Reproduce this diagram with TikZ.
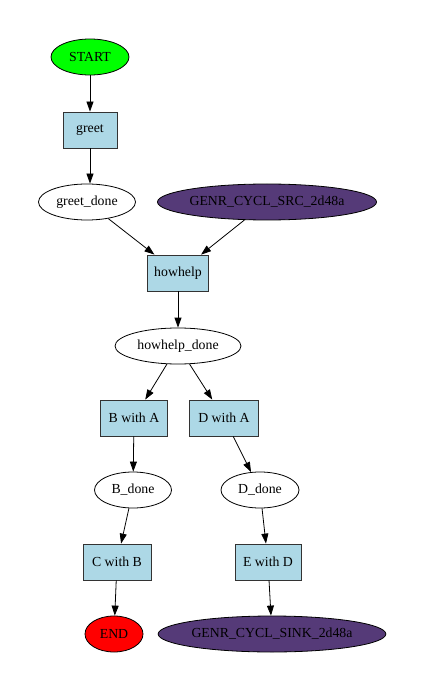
\documentclass[tikz,border=0pt]{standalone}
\usepackage{fontspec}
\setmainfont{Liberation Serif}
\usetikzlibrary{shapes.geometric,arrows.meta}
\definecolor{lblue}{HTML}{ADD8E6}
\definecolor{gpurple}{HTML}{553A78}
\definecolor{sgreen}{HTML}{00FF00}
\definecolor{ered}{HTML}{FF0000}
\begin{document}
\begin{tikzpicture}[x=1pt,y=-1pt,
  every node/.style={font=\fontsize{13.8}{16}\selectfont, inner sep=0pt, line width=0.8pt},
  ell/.style={ellipse, draw=black, fill=white, minimum height=36pt},
  box/.style={rectangle, draw=black!80, fill=lblue, minimum height=36pt},
  conn/.style={draw=black, line width=0.8pt, -{Triangle[length=10pt,width=7pt]}}
]
\useasboundingbox (0,0) rectangle (426,692);
\node[ell, fill=sgreen, minimum width=78pt] (start) at (90,57) {START};
\node[box, minimum width=54pt] (greet) at (90,130) {greet};
\node[ell, minimum width=97pt] (greetdone) at (87,202) {greet\_done};
\node[ell, fill=gpurple, minimum width=219pt] (src) at (267,202) {GENR\_CYCL\_SRC\_2d48a};
\node[box, minimum width=61pt] (howhelp) at (178,273) {howhelp};
\node[ell, minimum width=126pt] (hhdone) at (178,346) {howhelp\_done};
\node[box, minimum width=67pt] (bwa) at (134,418) {B with A};
\node[box, minimum width=69pt] (dwa) at (224,418) {D with A};
\node[ell, minimum width=77pt] (bdone) at (133,490) {B\_done};
\node[ell, minimum width=78pt] (ddone) at (260,490) {D\_done};
\node[box, minimum width=68pt] (cwb) at (117,562) {C with B};
\node[box, minimum width=66pt] (ewd) at (268,562) {E with D};
\node[ell, fill=ered, minimum width=58pt] (end) at (114,634) {END};
\node[ell, fill=gpurple, minimum width=226pt] (sink) at (272,634) {GENR\_CYCL\_SINK\_2d48a};
\draw[conn] (start) -- (greet);
\draw[conn] (greet.south) -- (greet.south |- greetdone.north);
\draw[conn] (greetdone) -- (howhelp);
\draw[conn] (src) -- (howhelp);
\draw[conn] (howhelp) -- (hhdone);
\draw[conn] (hhdone) -- (bwa);
\draw[conn] (hhdone) -- (dwa);
\draw[conn] (bwa) -- (bdone);
\draw[conn] (dwa) -- (ddone);
\draw[conn] (bdone) -- (cwb);
\draw[conn] (ddone) -- (ewd);
\draw[conn] (cwb) -- (end);
\draw[conn] (ewd) -- (sink);
\end{tikzpicture}
\end{document}
